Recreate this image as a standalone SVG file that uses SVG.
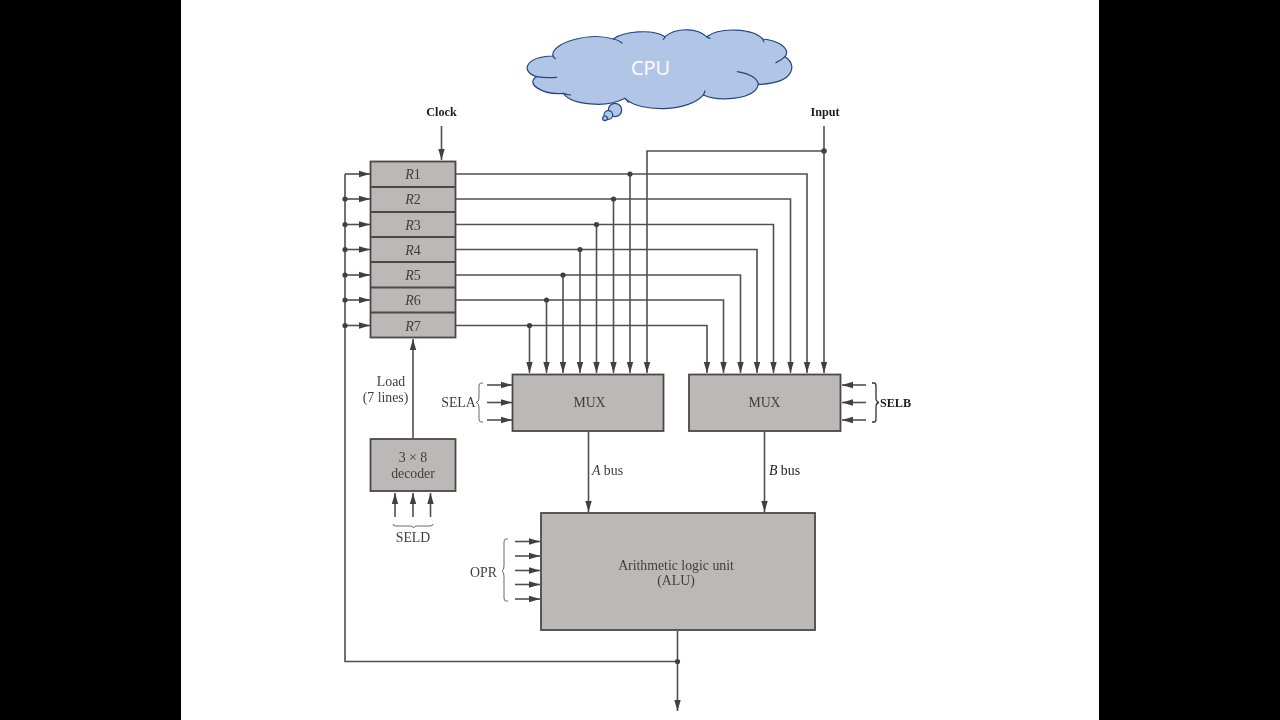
<svg xmlns="http://www.w3.org/2000/svg" width="1280" height="720" viewBox="0 0 1280 720">
<style>
.box{fill:#bcb8b7;stroke:#4a4848;stroke-width:1.8}
.div{stroke:#4a4848;stroke-width:1.8;fill:none}
.w{fill:none;stroke:#505050;stroke-width:1.6}
.a{marker-end:url(#ah)}
.br{fill:none;stroke:#6a6a6a;stroke-width:1}
.d{fill:#404040}
text{font-family:"Liberation Serif","Times New Roman",serif;fill:#403e3e;text-anchor:middle}
.t13{font-size:13.8px}
.ri{font-size:14px;font-style:italic}
.ri tspan{font-style:normal}
.b{fill:#1e1e1e;font-weight:bold;font-size:12.2px}
.cl{fill:#b1c5e7;stroke:#24477f;stroke-width:3.6;stroke-linejoin:round}
.cc{fill:none;stroke:#24477f;stroke-width:3.6;stroke-linecap:round}
</style>
<defs>
<marker id="ah" markerUnits="userSpaceOnUse" markerWidth="12" markerHeight="8" refX="11" refY="4" orient="auto">
<path d="M0,0.8 L11,4 L0,7.2 Z" fill="#404040"/>
</marker>
<filter id="soft" x="-5%" y="-5%" width="110%" height="110%"><feGaussianBlur stdDeviation="0.45"/></filter>
</defs>
<rect x="0" y="0" width="1280" height="720" fill="#000"/>
<rect x="181" y="0" width="918" height="720" fill="#fff"/>

<g id="cpu-cloud">
<g transform="translate(510 15) scale(.33333)">
<path class="cl" d="M129,123 C120,85 235,50 310,72 C340,50 425,40 465,65 C500,35 565,40 590,65 C630,35 730,40 758,72 C800,75 845,100 825,125 C860,145 860,205 745,208 C735,255 625,260 580,240 C540,290 390,295 345,250 C290,280 185,270 160,235 C95,240 45,205 80,185 C30,170 45,125 129,123 Z"/>
<path class="cc" d="M129,123 Q131,128 136,131 M310,72 Q325,74 336,84 M465,65 Q465,69 460,73 M590,65 Q594,68 600,70 M758,72 Q758,76 762,80 M825,125 Q815,135 798,143 M745,208 Q740,180 682,170 M580,240 Q583,235 585,228 M345,250 Q350,256 356,262 M160,235 Q170,238 182,240 M80,185 Q105,190 140,187"/>
<circle class="cl" cx="315" cy="285" r="20"/>
<circle class="cl" cx="295" cy="300" r="13"/>
<circle class="cl" cx="285" cy="310" r="7"/>
</g>
<text x="650.5" y="75" style="font-family:'Open Sans',sans-serif;font-size:20px;fill:#fff">CPU</text>
</g>

<g filter="url(#soft)">
<g id="connectors">
<path class="w a" d="M345,174H370"/><path class="w a" d="M345,199H370"/><path class="w a" d="M345,224.5H370"/><path class="w a" d="M345,249.5H370"/><path class="w a" d="M345,275H370"/><path class="w a" d="M345,300H370"/><path class="w a" d="M345,325.5H370"/>
<path class="w" d="M345,174V661.5H677.5"/>
<path class="w a" d="M441.5,126V160"/>
<path class="w a" d="M677.5,631V711"/>
<path class="w a" d="M413,438V339"/>
<path class="w a" d="M588.5,432V512"/>
<path class="w a" d="M764.5,432V512"/>
<path class="w a" d="M456,174H807V373"/>
<path class="w a" d="M456,199H790.5V373"/>
<path class="w a" d="M456,224.5H773.5V373"/>
<path class="w a" d="M456,249.5H757V373"/>
<path class="w a" d="M456,275H740.5V373"/>
<path class="w a" d="M456,300H723.5V373"/>
<path class="w a" d="M456,325.5H707V373"/>
<path class="w a" d="M529.5,325.5V373"/>
<path class="w a" d="M546.5,300V373"/>
<path class="w a" d="M563,275V373"/>
<path class="w a" d="M580,249.5V373"/>
<path class="w a" d="M596.5,224.5V373"/>
<path class="w a" d="M613.5,199V373"/>
<path class="w a" d="M630,174V373"/>
<path class="w a" d="M824,151H647V373"/>
<path class="w a" d="M824,126V373"/>
<path class="w a" d="M487,385H512"/><path class="w a" d="M487,402.5H512"/><path class="w a" d="M487,420H512"/>
<path class="w a" d="M866,385H842"/><path class="w a" d="M866,402.5H842"/><path class="w a" d="M866,420H842"/>
<path class="w a" d="M395,517V493"/><path class="w a" d="M413,517V493"/><path class="w a" d="M430.5,517V493"/>
<path class="w a" d="M515,541.5H540"/><path class="w a" d="M515,556H540"/><path class="w a" d="M515,570.5H540"/><path class="w a" d="M515,584.5H540"/><path class="w a" d="M515,599H540"/>
<path class="br" d="M483,383H481Q479,383 479,386V398Q479,402 476,402.5Q479,403 479,407V419Q479,422 481,422H483"/>
<path class="br" style="stroke:#333;stroke-width:1.3" d="M872,383H874Q876,383 876,386V398Q876,402 879,402.5Q876,403 876,407V419Q876,422 874,422H872"/>
<path class="br" d="M393,524Q393,526 396,526H410Q413,526 413.5,528Q414,526 417,526H430Q433,526 433,524"/>
<path class="br" d="M508,539H506Q504,539 504,542V566Q504,570 502,571Q504,572 504,576V598Q504,601 506,601H508"/>
<g class="d">
<circle cx="345" cy="199" r="2.6"/><circle cx="345" cy="224.5" r="2.6"/><circle cx="345" cy="249.5" r="2.6"/><circle cx="345" cy="275" r="2.6"/><circle cx="345" cy="300" r="2.6"/><circle cx="345" cy="325.5" r="2.6"/>
<circle cx="630" cy="174" r="2.6"/><circle cx="613.5" cy="199" r="2.6"/><circle cx="596.5" cy="224.5" r="2.6"/><circle cx="580" cy="249.5" r="2.6"/><circle cx="563" cy="275" r="2.6"/><circle cx="546.5" cy="300" r="2.6"/><circle cx="529.5" cy="325.5" r="2.6"/>
<circle cx="824" cy="151" r="2.8"/><circle cx="677.5" cy="661.5" r="2.6"/>
</g>
</g>

<g id="registers">
<rect class="box" x="370.5" y="161.5" width="85" height="176"/>
<path class="div" d="M370.5,187H455.5M370.5,212H455.5M370.5,237H455.5M370.5,262H455.5M370.5,287.5H455.5M370.5,312.5H455.5"/>
<text class="ri" x="413" y="179">R<tspan>1</tspan></text>
<text class="ri" x="413" y="204">R<tspan>2</tspan></text>
<text class="ri" x="413" y="229.5">R<tspan>3</tspan></text>
<text class="ri" x="413" y="254.5">R<tspan>4</tspan></text>
<text class="ri" x="413" y="280">R<tspan>5</tspan></text>
<text class="ri" x="413" y="305">R<tspan>6</tspan></text>
<text class="ri" x="413" y="330.5">R<tspan>7</tspan></text>
</g>
<g id="mux-a"><rect class="box" x="512.5" y="374.5" width="151" height="56.5"/><text class="t13" x="589.5" y="407">MUX</text></g>
<g id="mux-b"><rect class="box" x="689" y="374.5" width="151.5" height="56.5"/><text class="t13" x="764.5" y="407">MUX</text></g>
<g id="decoder"><rect class="box" x="370.5" y="439" width="85" height="52"/><text class="t13" x="413" y="462">3 × 8</text><text class="t13" x="413" y="478">decoder</text></g>
<g id="alu"><rect class="box" x="541" y="513" width="274" height="117"/><text class="t13" x="676" y="570">Arithmetic logic unit</text><text class="t13" x="676" y="585">(ALU)</text></g>

<g id="labels">
<text class="b" x="441.5" y="115.5">Clock</text>
<text class="b" x="825" y="115.5">Input</text>
<text class="t13" x="391" y="386">Load</text>
<text class="t13" x="385.5" y="402">(7 lines)</text>
<text class="t13" x="458.5" y="407">SELA</text>
<text class="b" x="895.5" y="407">SELB</text>
<text class="t13" x="413" y="542">SELD</text>
<text class="t13" x="483.5" y="577">OPR</text>
<text class="t13" x="607.5" y="475"><tspan font-style="italic">A</tspan> bus</text>
<text class="t13" style="fill:#222" x="784.5" y="475"><tspan font-style="italic">B</tspan> bus</text>
</g>
</g>
</svg>
